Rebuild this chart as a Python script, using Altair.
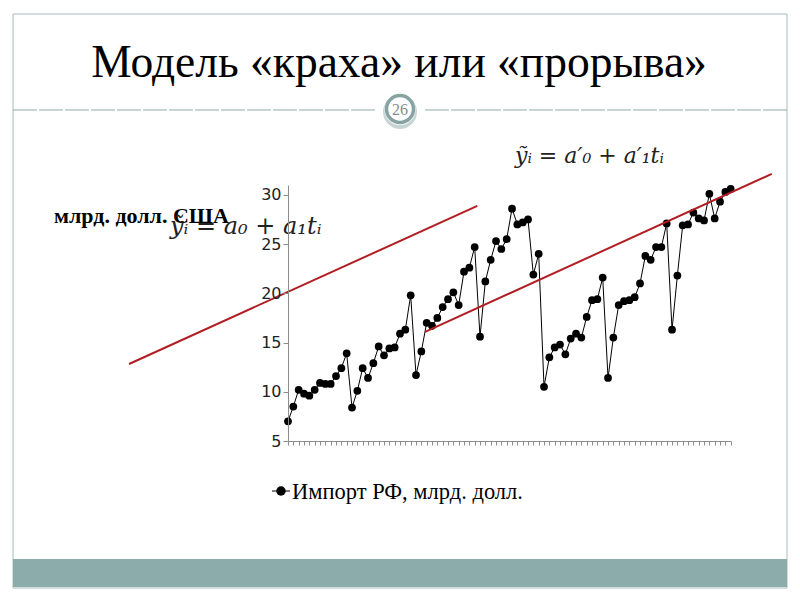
import altair as alt
import pandas as pd

# ---- data ----
months = list(range(1, 85))
imports = [7.0, 8.5, 10.2, 9.8, 9.6, 10.2, 10.9, 10.8, 10.8, 11.6, 12.4, 13.9,
           8.4, 10.1, 12.4, 11.4, 12.9, 14.6, 13.7, 14.4, 14.5, 15.9, 16.3, 19.8,
           11.7, 14.1, 17.0, 16.7, 17.5, 18.6, 19.4, 20.1, 18.8, 22.2, 22.6, 24.7,
           15.6, 21.2, 23.4, 25.3, 24.5, 25.5, 28.6, 27.0, 27.2, 27.5, 21.9, 24.0,
           10.5, 13.5, 14.5, 14.8, 13.8, 15.4, 15.9, 15.5, 17.6, 19.3, 19.4, 21.6,
           11.4, 15.5, 18.8, 19.2, 19.3, 19.6, 21.0, 23.8, 23.4, 24.7, 24.7, 27.1,
           16.3, 21.8, 26.9, 27.0, 28.2, 27.6, 27.4, 30.1, 27.6, 29.3, 30.3, 30.6]
trend1_t = [-28.8, 36.5]
trend1_y = [12.82, 28.88]
trend2_t = [26.7, 91.7]
trend2_y = [16.08, 32.13]
y_ticks = [5, 10, 15, 20, 25, 30]
title_text = "Модель «краха» или «прорыва»"
legend_text = "Импорт РФ, млрд. долл."
unit_text = "млрд. долл. США"
formula1 = "ỹᵢ = a₀ + a₁tᵢ"
formula2 = "ỹᵢ = a′₀ + a′₁tᵢ"
slide_no = "26"

df = pd.DataFrame({"t": months, "v": imports})
tr1 = pd.DataFrame({"t": trend1_t, "v": trend1_y})
tr2 = pd.DataFrame({"t": trend2_t, "v": trend2_y})

# ---- layout (page pixels) ----
OX, OY = 288.0, 185.0
W, H = 442.7, 256.0


def px(x):
    return x - OX


def py(y):
    return y - OY


one = alt.Data(values=[{}])

xs = alt.Scale(domain=[1, 84], nice=False, zero=False)
ys = alt.Scale(domain=[5, 31], nice=False, zero=False)

frame = alt.Chart(one).mark_rect(fillOpacity=0, stroke="#a9bcbc", strokeWidth=1).encode(
    x=alt.value(px(13)), x2=alt.value(px(787)), y=alt.value(py(14)), y2=alt.value(py(588)))
band = alt.Chart(one).mark_rect(fill="#8cabab").encode(
    x=alt.value(px(13)), x2=alt.value(px(787)), y=alt.value(py(559)), y2=alt.value(py(587)))
dash_l = alt.Chart(one).mark_rule(stroke="#8fa9a9", strokeWidth=1, strokeDash=[24, 2]).encode(
    x=alt.value(px(13)), x2=alt.value(px(376)), y=alt.value(py(110)))
dash_r = alt.Chart(one).mark_rule(stroke="#8fa9a9", strokeWidth=1, strokeDash=[24, 2]).encode(
    x=alt.value(px(425)), x2=alt.value(px(787)), y=alt.value(py(110)))
shadow = alt.Chart(one).mark_point(shape="circle", filled=True, fill="#c9d5d5", opacity=1,
                                    strokeWidth=0, size=34 * 34).encode(
    x=alt.value(px(400)), y=alt.value(py(112)))
cover = alt.Chart(one).mark_point(shape="circle", filled=True, fill="white", opacity=1,
                                   strokeWidth=0, size=31 * 31).encode(
    x=alt.value(px(400)), y=alt.value(py(109.5)))
ring = alt.Chart(one).mark_point(shape="circle", filled=False, stroke="#87a3a3", opacity=1,
                                  strokeWidth=3.5, size=27 * 27).encode(
    x=alt.value(px(400)), y=alt.value(py(109)))
num = alt.Chart(one).mark_text(text=slide_no, font="Liberation Serif", fontSize=16,
                               color="#7d8f8f", align="center", baseline="middle").encode(
    x=alt.value(px(400)), y=alt.value(py(110)))
title = alt.Chart(one).mark_text(text=title_text, font="Liberation Serif", fontSize=45.5,
                                 color="black", align="center", baseline="alphabetic").encode(
    x=alt.value(px(399)), y=alt.value(py(77)))
unit = alt.Chart(one).mark_text(text=unit_text, font="Liberation Serif", fontSize=22,
                                fontWeight="bold", color="black", align="left",
                                baseline="alphabetic").encode(
    x=alt.value(px(54)), y=alt.value(py(223)))
f1 = alt.Chart(one).mark_text(text=formula1, font="DejaVu Serif", fontStyle="italic",
                              fontSize=24, color="#222", align="left",
                              baseline="alphabetic").encode(
    x=alt.value(px(170)), y=alt.value(py(234)))
f2 = alt.Chart(one).mark_text(text=formula2, font="DejaVu Serif", fontStyle="italic",
                              fontSize=22, color="#222", align="left",
                              baseline="alphabetic").encode(
    x=alt.value(px(515)), y=alt.value(py(163)))

red1 = alt.Chart(tr1).mark_line(color="#b11d22", strokeWidth=2).encode(
    x=alt.X("t:Q", scale=xs), y=alt.Y("v:Q", scale=ys))
red2 = alt.Chart(tr2).mark_line(color="#b11d22", strokeWidth=2).encode(
    x=alt.X("t:Q", scale=xs), y=alt.Y("v:Q", scale=ys))

x_axis = alt.Axis(values=months, tickCount=200, labels=False, tickSize=4, grid=False,
                  title=None, domainColor="#8c8c8c", tickColor="#8c8c8c", zindex=1)
y_axis = alt.Axis(values=y_ticks, tickSize=5, grid=False, title=None, labelFont="DejaVu Sans",
                  labelFontSize=16, labelColor="#222", labelPadding=2,
                  domainColor="#8c8c8c", tickColor="#8c8c8c", zindex=1)

base = alt.Chart(df).encode(
    x=alt.X("t:Q", scale=xs, axis=x_axis),
    y=alt.Y("v:Q", scale=ys, axis=y_axis))
series_line = base.mark_line(color="black", strokeWidth=1)
series_pts = base.mark_point(shape="circle", filled=True, color="black", opacity=1, size=60)

leg_rule = alt.Chart(one).mark_rule(color="black", strokeWidth=1).encode(
    x=alt.value(px(272)), x2=alt.value(px(290)), y=alt.value(py(491)))
leg_pt = alt.Chart(one).mark_point(shape="circle", filled=True, color="black", opacity=1,
                                   size=90).encode(x=alt.value(px(281)), y=alt.value(py(491)))
leg_txt = alt.Chart(one).mark_text(text=legend_text, font="Liberation Serif", fontSize=22.5,
                                   color="black", align="left", baseline="alphabetic").encode(
    x=alt.value(px(292)), y=alt.value(py(499)))

chart = alt.layer(
    frame, band, dash_l, dash_r, shadow, cover, ring, num, title,
    series_line, series_pts, red1, red2, unit, f1, f2, leg_rule, leg_pt, leg_txt
).properties(
    width=W, height=H,
    autosize=alt.AutoSizeParams(type="none"),
    padding={"left": OX - 8, "top": OY - 8, "right": 784 - (OX - 8) - W,
             "bottom": 584 - (OY - 8) - H},
    background="white",
).configure_view(stroke=None)

chart.save("out.html", embed_options={"renderer": "svg", "actions": False})
